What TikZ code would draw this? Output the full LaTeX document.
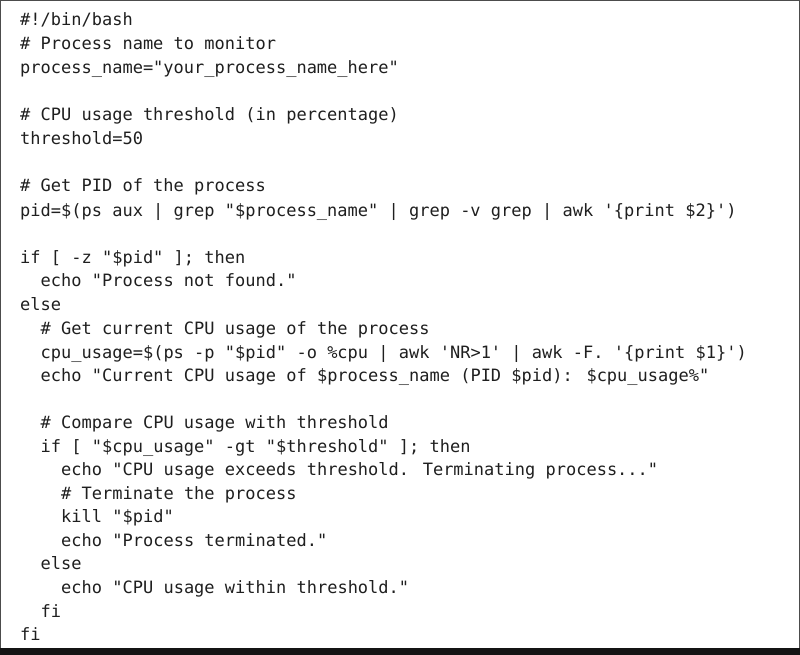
\documentclass[tikz,border=0pt]{standalone}
\usepackage{fontspec}
\newfontfamily\codefont{DejaVu Sans Mono}
\begin{document}
\begin{tikzpicture}[x=1pt,y=1pt,
  code/.style={anchor=base west,inner sep=0pt,font=\codefont\fontsize{17pt}{20pt}\selectfont,text=black!88}]
\useasboundingbox (0,0) rectangle (800,-655);
\fill[white] (0,0) rectangle (800,-655);
\draw[black!70,line width=1.2pt] (0.6,-650) -- (0.6,-0.6) -- (799.4,-0.6) -- (799.4,-650);
\fill[black!92] (0,-648) rectangle (800,-655);
\def\ly#1{-#1-6}
\node[code] (l1) at (20,\ly{20}) {\#!/bin/bash};
\node[code] (l2) at (20,\ly{44}) {\# Process name to monitor};
\node[code] (l3) at (20,\ly{68}) {process\_name="your\_process\_name\_here"};
\node[code] (l5) at (20,\ly{115}) {\# CPU usage threshold (in percentage)};
\node[code] (l6) at (20,\ly{139}) {threshold=50};
\node[code] (l8) at (20,\ly{186}) {\# Get PID of the process};
\node[code] (l9) at (20,\ly{210}) {pid=\$(ps aux | grep "\$process\_name" | grep -v grep | awk '\{print \$2\}')};
\node[code] (l11) at (20,\ly{257}) {if [ -z "\$pid" ]; then};
\node[code] (l12) at (40.5,\ly{280}) {echo "Process not found."};
\node[code] (l13) at (20,\ly{304}) {else};
\node[code] (l14) at (40.5,\ly{328}) {\# Get current CPU usage of the process};
\node[code] (l15) at (40.5,\ly{352}) {cpu\_usage=\$(ps -p "\$pid" -o \%cpu | awk 'NR>1' | awk -F. '\{print \$1\}')};
\node[code] (l16) at (40.5,\ly{375}) {echo "Current CPU usage of \$process\_name (PID \$pid): \$cpu\_usage\%"};
\node[code] (l18) at (40.5,\ly{422}) {\# Compare CPU usage with threshold};
\node[code] (l19) at (40.5,\ly{446}) {if [ "\$cpu\_usage" -gt "\$threshold" ]; then};
\node[code] (l20) at (61,\ly{469}) {echo "CPU usage exceeds threshold. Terminating process..."};
\node[code] (l21) at (61,\ly{493}) {\# Terminate the process};
\node[code] (l22) at (61,\ly{516}) {kill "\$pid"};
\node[code] (l23) at (61,\ly{540}) {echo "Process terminated."};
\node[code] (l24) at (40.5,\ly{563}) {else};
\node[code] (l25) at (61,\ly{587}) {echo "CPU usage within threshold."};
\node[code] (l26) at (40.5,\ly{611}) {fi};
\node[code] (l27) at (20,\ly{634}) {fi};
\end{tikzpicture}
\end{document}
